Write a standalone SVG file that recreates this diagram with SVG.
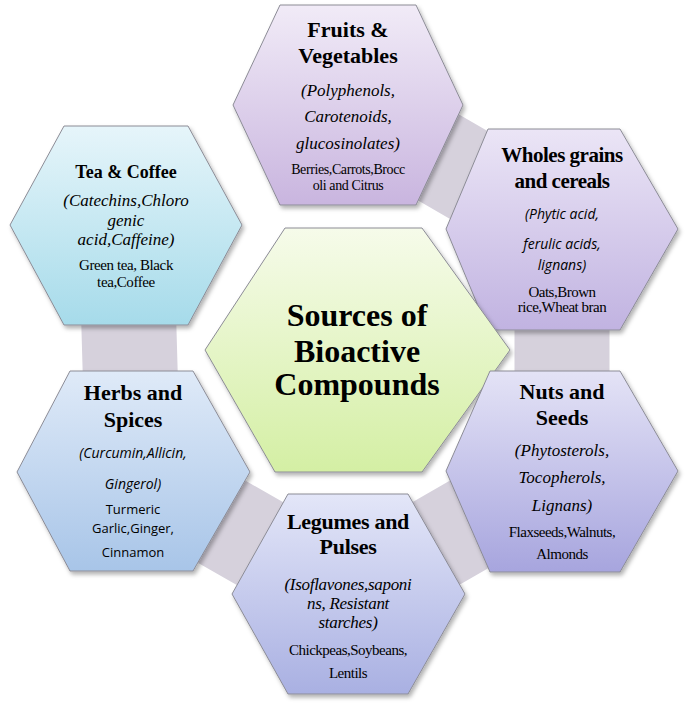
<svg xmlns="http://www.w3.org/2000/svg" width="685" height="710" viewBox="0 0 685 710">
<defs>
<linearGradient id="gF" x1="0" y1="0" x2="0" y2="1"><stop offset="0" stop-color="#f1ebf7"/><stop offset="1" stop-color="#c9b5df"/></linearGradient>
<linearGradient id="gT" x1="0" y1="0" x2="0" y2="1"><stop offset="0" stop-color="#e6f5fa"/><stop offset="1" stop-color="#a6dbea"/></linearGradient>
<linearGradient id="gW" x1="0" y1="0" x2="0" y2="1"><stop offset="0" stop-color="#ebe5f6"/><stop offset="1" stop-color="#c1b3e1"/></linearGradient>
<linearGradient id="gH" x1="0" y1="0" x2="0" y2="1"><stop offset="0" stop-color="#dfeaf8"/><stop offset="1" stop-color="#a8c5e8"/></linearGradient>
<linearGradient id="gN" x1="0" y1="0" x2="0" y2="1"><stop offset="0" stop-color="#e4e3f6"/><stop offset="1" stop-color="#a7a5de"/></linearGradient>
<linearGradient id="gL" x1="0" y1="0" x2="0" y2="1"><stop offset="0" stop-color="#e3e6f8"/><stop offset="1" stop-color="#a9b0e2"/></linearGradient>
<linearGradient id="gC" x1="0" y1="0" x2="0" y2="1"><stop offset="0" stop-color="#f6fbea"/><stop offset="1" stop-color="#d4efa4"/></linearGradient>
<filter id="sh" x="-10%" y="-10%" width="130%" height="130%"><feDropShadow dx="2" dy="3" stdDeviation="2" flood-color="#000" flood-opacity="0.3"/></filter>
</defs>
<style>
.hex{stroke:#8c8c96;stroke-width:1;filter:url(#sh)}
text{text-anchor:middle;fill:#000}
.conn{stroke:#d6d1dc;stroke-width:95;fill:none}
</style>
<g id="connectors">
<path class="conn" d="M348,105 L562,229 L562,471 L348,594 L133,471 L126,225"/>
</g>
<g id="fruits"><polygon class="hex" fill="url(#gF)" points="280,5 416,5 463,105 416,205 280,205 233,105"/>
<g font-family="Liberation Serif" font-weight="bold" font-size="22"><text x="348" y="37">Fruits &amp;</text><text x="348" y="63">Vegetables</text></g>
<g font-family="Liberation Serif" font-style="italic" font-size="17"><text x="348" y="96">(Polyphenols,</text><text x="348" y="122">Carotenoids,</text><text x="348" y="149">glucosinolates)</text></g>
<g font-family="Liberation Serif" font-size="14" letter-spacing="-0.4"><text x="348" y="174">Berries,Carrots,Brocc</text><text x="348" y="190">oli and Citrus</text></g></g>
<g id="tea"><polygon class="hex" fill="url(#gT)" points="64,126 188,126 242,225 188,325 64,325 10,225"/>
<text x="126" y="178" font-family="Liberation Serif" font-weight="bold" font-size="18">Tea &amp; Coffee</text>
<g font-family="Liberation Serif" font-style="italic" font-size="17"><text x="126" y="206">(Catechins,Chloro</text><text x="126" y="226">genic</text><text x="126" y="245">acid,Caffeine)</text></g>
<g font-family="Liberation Serif" font-size="15" letter-spacing="-0.4"><text x="126" y="270">Green tea, Black</text><text x="126" y="287">tea,Coffee</text></g></g>
<g id="wholes"><polygon class="hex" fill="url(#gW)" points="488,129 620,129 678,229 620,330 488,330 446,229"/>
<g font-family="Liberation Serif" font-weight="bold" font-size="21" letter-spacing="-0.5"><text x="562" y="162">Wholes grains</text><text x="562" y="188">and cereals</text></g>
<g font-family="Open Sans" font-style="italic" font-size="14"><text x="562" y="219">(Phytic acid,</text><text x="562" y="249">ferulic acids,</text><text x="562" y="270">lignans)</text></g>
<g font-family="Liberation Serif" font-size="15" letter-spacing="-0.5"><text x="562" y="297">Oats,Brown</text><text x="562" y="312">rice,Wheat bran</text></g></g>
<g id="center"><polygon class="hex" fill="url(#gC)" points="285,228 422,228 510,350 422,472 275,472 205,350"/>
<g font-family="Liberation Serif" font-weight="bold" font-size="32"><text x="357" y="326">Sources of</text><text x="357" y="362">Bioactive</text><text x="357" y="395">Compounds</text></g></g>
<g id="herbs"><polygon class="hex" fill="url(#gH)" points="70,371 193,371 250,472 193,571 70,571 17,472"/>
<g font-family="Liberation Serif" font-weight="bold" font-size="22"><text x="133" y="400">Herbs and</text><text x="133" y="427">Spices</text></g>
<g font-family="Open Sans" font-style="italic" font-size="14"><text x="133" y="458">(Curcumin,Allicin,</text><text x="133" y="489">Gingerol)</text></g>
<g font-family="Open Sans" font-size="13"><text x="133" y="514">Turmeric</text><text x="133" y="533">Garlic,Ginger,</text><text x="133" y="557">Cinnamon</text></g></g>
<g id="nuts"><polygon class="hex" fill="url(#gN)" points="490,371 620,371 678,471 620,572 490,572 446,471"/>
<g font-family="Liberation Serif" font-weight="bold" font-size="22"><text x="562" y="399">Nuts and</text><text x="562" y="425">Seeds</text></g>
<g font-family="Liberation Serif" font-style="italic" font-size="17"><text x="562" y="456">(Phytosterols,</text><text x="562" y="483">Tocopherols,</text><text x="562" y="511">Lignans)</text></g>
<g font-family="Liberation Serif" font-size="15" letter-spacing="-0.5"><text x="562" y="537">Flaxseeds,Walnuts,</text><text x="562" y="559">Almonds</text></g></g>
<g id="legumes"><polygon class="hex" fill="url(#gL)" points="288,494 408,494 465,594 408,694 288,694 232,594"/>
<g font-family="Liberation Serif" font-weight="bold" font-size="22" letter-spacing="-0.3"><text x="348" y="529">Legumes and</text><text x="348" y="554">Pulses</text></g>
<g font-family="Liberation Serif" font-style="italic" font-size="17" letter-spacing="-0.3"><text x="348" y="590">(Isoflavones,saponi</text><text x="348" y="609">ns, Resistant</text><text x="348" y="628">starches)</text></g>
<g font-family="Liberation Serif" font-size="15" letter-spacing="-0.5"><text x="348" y="655">Chickpeas,Soybeans,</text><text x="348" y="678">Lentils</text></g></g>
</svg>
